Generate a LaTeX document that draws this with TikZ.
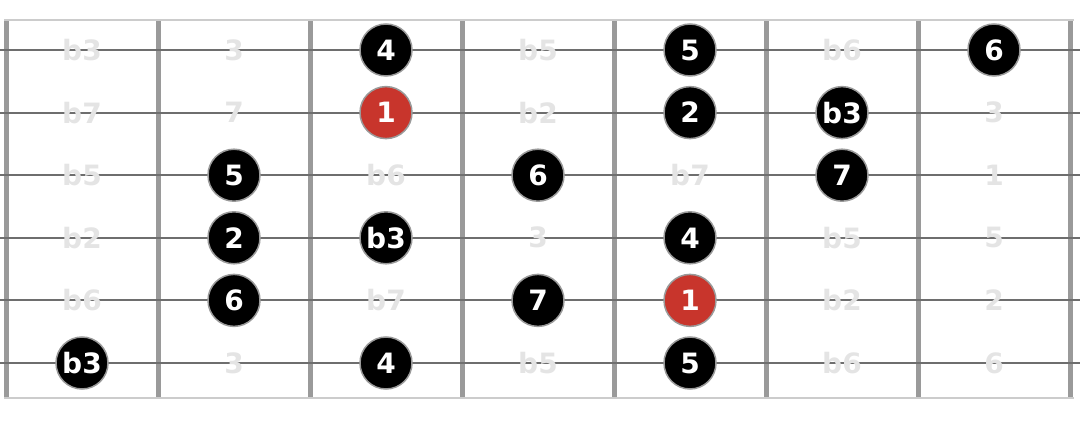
\documentclass[tikz,border=0pt]{standalone}
\usepackage{fontspec}
\setmainfont{DejaVu Sans}
\usepackage{tikz}

\definecolor{fretgray}{HTML}{9A9A9A}
\definecolor{stringgray}{HTML}{6E6E6E}
\definecolor{edgegray}{HTML}{CCCCCC}
\definecolor{faintgray}{HTML}{E4E4E4}
\definecolor{rootred}{HTML}{C8352C}

\tikzset{
  fret/.style = {draw = fretgray, line width = 5pt},
  gstring/.style = {draw = stringgray, line width = 2pt},
  edge/.style = {draw = edgegray, line width = 2pt},
  faint/.style = {text = faintgray, font = \fontsize{28}{28}\selectfont\bfseries},
  dot/.style = {circle, fill = black, draw = fretgray, line width = 1.5pt,
                minimum size = 52pt, inner sep = 0pt, text = white,
                font = \fontsize{28}{28}\selectfont\bfseries},
  root/.style = {dot, fill = rootred}
}

\begin{document}
\begin{tikzpicture}[x = 1pt, y = -1pt]
\useasboundingbox (0, 0) rectangle (1080, 422);
%\draw [help lines, step = 152] (6, 0) grid (1070, 422);
% frets
\foreach \i in {0,...,7}
  \draw [fret] (6 + 152*\i, 20) -- (6 + 152*\i, 398);
\draw [edge] (4, 20) -- (1074, 20);
\draw [edge] (4, 398) -- (1074, 398);
% strings
\foreach \y in {50, 112.6, 175.2, 237.8, 300.4, 363}
  \draw [gstring] (0, \y) -- (1080, \y);

% faint intervals
\foreach \c/\lab in {1/b3, 2/3, 4/b5, 6/b6}
  \node [faint] (fa\c) at (152*\c - 70, 50) {\lab};
\foreach \c/\lab in {1/b7, 2/7, 4/b2, 7/3}
  \node [faint] (fb\c) at (152*\c - 70, 112.6) {\lab};
\foreach \c/\lab in {1/b5, 3/b6, 5/b7, 7/1}
  \node [faint] (fc\c) at (152*\c - 70, 175.2) {\lab};
\foreach \c/\lab in {1/b2, 4/3, 6/b5, 7/5}
  \node [faint] (fd\c) at (152*\c - 70, 237.8) {\lab};
\foreach \c/\lab in {1/b6, 3/b7, 6/b2, 7/2}
  \node [faint] (fe\c) at (152*\c - 70, 300.4) {\lab};
\foreach \c/\lab in {2/3, 4/b5, 6/b6, 7/6}
  \node [faint] (ff\c) at (152*\c - 70, 363) {\lab};

% scale tones
\node [dot] (da3) at (386, 50) {4};
\node [dot] (da5) at (690, 50) {5};
\node [dot] (da7) at (994, 50) {6};
\node [root] (db3) at (386, 112.6) {1};
\node [dot] (db5) at (690, 112.6) {2};
\node [dot] (db6) at (842, 112.6) {b3};
\node [dot] (dc2) at (234, 175.2) {5};
\node [dot] (dc4) at (538, 175.2) {6};
\node [dot] (dc6) at (842, 175.2) {7};
\node [dot] (dd2) at (234, 237.8) {2};
\node [dot] (dd3) at (386, 237.8) {b3};
\node [dot] (dd5) at (690, 237.8) {4};
\node [dot] (de2) at (234, 300.4) {6};
\node [dot] (de4) at (538, 300.4) {7};
\node [root] (de5) at (690, 300.4) {1};
\node [dot] (df1) at (82, 363) {b3};
\node [dot] (df3) at (386, 363) {4};
\node [dot] (df5) at (690, 363) {5};
\end{tikzpicture}
\end{document}
